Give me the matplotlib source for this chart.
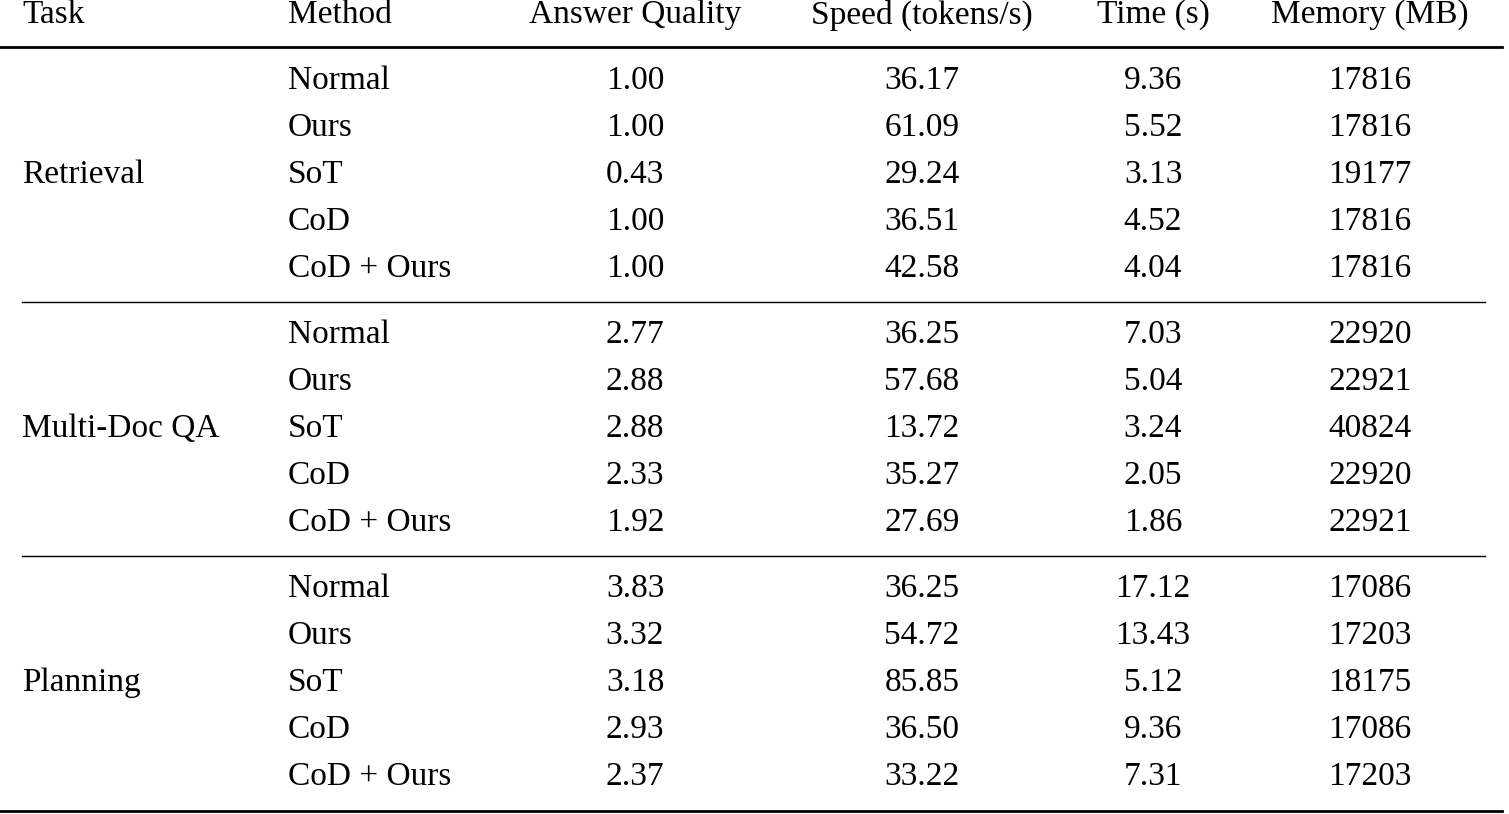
import matplotlib.pyplot as plt

plt.rcParams['font.family'] = ['Liberation Serif', 'DejaVu Serif']

headers = ['Task', 'Method', 'Answer Quality', 'Speed (tokens/s)', 'Time (s)', 'Memory (MB)']
tasks = ['Retrieval', 'Multi-Doc QA', 'Planning']
methods = ['Normal', 'Ours', 'SoT', 'CoD', 'CoD + Ours']

quality = [['1.00', '1.00', '0.43', '1.00', '1.00'],
           ['2.77', '2.88', '2.88', '2.33', '1.92'],
           ['3.83', '3.32', '3.18', '2.93', '2.37']]
speed = [['36.17', '61.09', '29.24', '36.51', '42.58'],
         ['36.25', '57.68', '13.72', '35.27', '27.69'],
         ['36.25', '54.72', '85.85', '36.50', '33.22']]
times = [['9.36', '5.52', '3.13', '4.52', '4.04'],
         ['7.03', '5.04', '3.24', '2.05', '1.86'],
         ['17.12', '13.43', '5.12', '9.36', '7.31']]
memory = [['17816', '17816', '19177', '17816', '17816'],
          ['22920', '22921', '40824', '22920', '22921'],
          ['17086', '17203', '18175', '17086', '17203']]

fig = plt.figure(figsize=(15.09, 8.14), dpi=100)
ax = fig.add_axes([0, 0, 1, 1])
ax.set_xlim(0, 1509)
ax.set_ylim(814, 0)
ax.axis('off')

fs = 24
# header
hx = [22, 288, 635, 922, 1153, 1370]
ha = ['left', 'left', 'center', 'center', 'center', 'center']
for h, x, a in zip(headers, hx, ha):
    ax.text(x, 15, h, fontsize=fs, ha=a, va='center')

ax.plot([0, 1502], [47, 47], color='black', lw=2)
for g, task in enumerate(tasks):
    y0 = 81 + g * 254
    ax.text(22, y0 + 2 * 47, task, fontsize=fs, ha='left', va='center')
    for r, m in enumerate(methods):
        y = y0 + r * 47
        ax.text(288, y, m, fontsize=fs, ha='left', va='center')
        ax.text(635, y, quality[g][r], fontsize=fs, ha='center', va='center')
        ax.text(922, y, speed[g][r], fontsize=fs, ha='center', va='center')
        ax.text(1153, y, times[g][r], fontsize=fs, ha='center', va='center')
        ax.text(1370, y, memory[g][r], fontsize=fs, ha='center', va='center')
    if g < 2:
        ax.plot([22, 1485], [y0 + 221, y0 + 221], color='black', lw=1)
ax.plot([0, 1502], [811, 811], color='black', lw=2)

fig.savefig('out.png', dpi=100)
